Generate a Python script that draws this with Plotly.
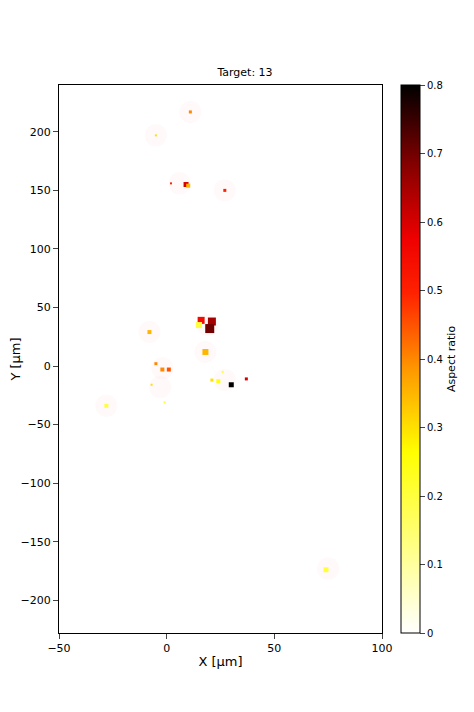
import plotly.graph_objects as go

halo_x = [11, -5, 6, 27, 19, 18, -8, -2, -3, 27, -28, 75]
halo_y = [217, 197, 156, 150, 35, 12, 29, -2, -18, -12, -34, -173]

blob_x = [11, -5, 2, 9, 10, 27, 16, 21, 20, 15, 18, -8, -5, -2, 1, 24, 21, 30, 37, 26, -28, 74, -7, -1]
blob_y = [217, 197, 156, 155, 154, 150, 39, 38, 32, 35, 12, 29, 2, -3, -3, -13, -12, -16, -11, -5, -34, -174, -16, -31]
blob_s = [3, 2, 2, 5, 4, 3, 7, 8, 9, 6, 6, 4, 3, 4, 4, 4, 3, 5, 3, 2, 4, 5, 2, 2]
blob_v = [0.4, 0.3, 0.5, 0.6, 0.35, 0.5, 0.55, 0.65, 0.7, 0.2, 0.35, 0.35, 0.4, 0.4, 0.45, 0.25, 0.3, 0.8, 0.6, 0.2, 0.2, 0.2, 0.3, 0.2]

hot_r = [[0, "#ffffff"], [0.33, "#ffff00"], [0.48, "#ff9900"], [0.62, "#ff2200"],
         [0.72, "#ee0000"], [0.85, "#880000"], [1, "#000000"]]

fig = go.Figure()
fig.add_trace(go.Scatter(x=halo_x, y=halo_y, mode="markers", hoverinfo="skip",
                         marker=dict(size=22, color="rgba(255,225,225,0.2)", line=dict(width=0)),
                         showlegend=False))
fig.add_trace(go.Scatter(x=blob_x, y=blob_y, mode="markers", showlegend=False,
                         marker=dict(size=blob_s, color=blob_v, colorscale=hot_r, cmin=0, cmax=0.8,
                                     symbol="square", opacity=1, line=dict(width=0),
                                     colorbar=dict(title=dict(text="Aspect ratio", side="right", font=dict(size=11)),
                                                   thickness=19, len=1, lenmode="fraction", ypad=0, xpad=0,
                                                   y=0.5, yanchor="middle", x=1.059, xanchor="left",
                                                   outlinewidth=1, outlinecolor="black", ticks="outside",
                                                   tickvals=[0, 0.1, 0.2, 0.3, 0.4, 0.5, 0.6, 0.7, 0.8],
                                                   tickfont=dict(size=10)))))
fig.update_layout(width=474, height=712, plot_bgcolor="white", paper_bgcolor="white",
                  margin=dict(l=51, r=100, t=77, b=87, autoexpand=False),
                  font=dict(family="DejaVu Sans", color="black", size=11),
                  title=dict(text="Target: 13", x=0.5, xanchor="center", y=0.915, font=dict(size=11)))
fig.update_xaxes(range=[-50, 100], dtick=50, showgrid=False, zeroline=False, showline=True, mirror=True,
                 linecolor="black", ticks="outside", title=dict(text="X [µm]", standoff=2))
fig.update_yaxes(range=[-228, 240], dtick=50, showgrid=False, zeroline=False, showline=True, mirror=True,
                 linecolor="black", ticks="outside", title=dict(text="Y [µm]", standoff=4))
fig.write_html("out.html")
